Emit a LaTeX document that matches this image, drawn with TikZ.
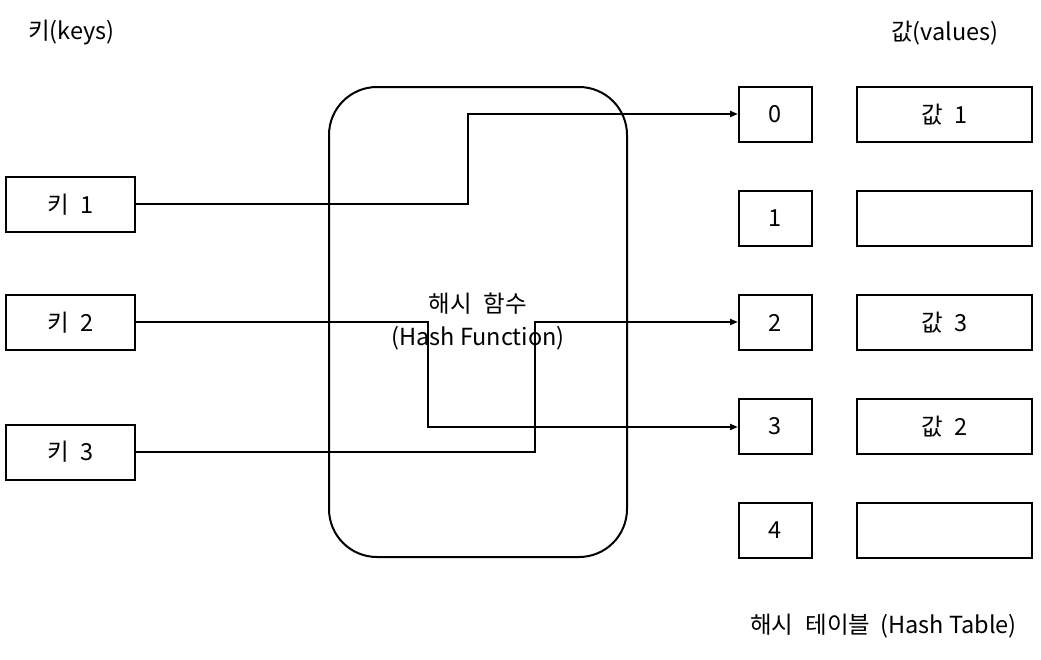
\documentclass[tikz,border=0pt]{standalone}
\usepackage{fontspec}
\setmainfont{Noto Sans CJK KR}
\newcommand{\ksp}{\hspace{12pt}}
\usetikzlibrary{arrows.meta}
\begin{document}
\begin{tikzpicture}[x=1pt,y=-1pt,
  box/.style={draw,line width=2pt,minimum height=55pt,inner sep=0pt,font=\fontsize{23.5}{28}\selectfont},
  keybox/.style={box,minimum width=129pt},
  idxbox/.style={box,minimum width=73pt},
  valbox/.style={box,minimum width=175pt},
  lbl/.style={inner sep=0pt,font=\fontsize{23.5}{28}\selectfont},
  conn/.style={line width=2pt,-{Triangle[length=8pt,width=6pt]}}]
\useasboundingbox (0,0) rectangle (1041,659);
% hash function
\node[draw,line width=2pt,rounded corners=48pt,minimum width=298pt,minimum height=470pt,inner sep=0pt] (hf) at (478,322) {};
\node[lbl,align=center,font=\fontsize{23.5}{33}\selectfont] (hft) at (478,321) {해시\ksp 함수\\(Hash Function)};
% keys
\node[keybox] (k1) at (70.5,204.5) {키\ksp 1};
\node[keybox] (k2) at (70.5,322.5) {키\ksp 2};
\node[keybox] (k3) at (70.5,452) {키\ksp 3};
% indices
\foreach \i/\y in {0/114.5,1/218.5,2/322.5,3/426.5,4/530.5}{
  \node[idxbox] (i\i) at (775.5,\y) {\i};
}
\node[valbox] (v0) at (944.5,114.5) {값\ksp 1};
\node[valbox] (v1) at (944.5,218.5) {};
\node[valbox] (v2) at (944.5,322.5) {값\ksp 3};
\node[valbox] (v3) at (944.5,426.5) {값\ksp 2};
\node[valbox] (v4) at (944.5,530.5) {};
% titles
\node[lbl,anchor=west] (tk) at (28,33) {키(keys)};
\node[lbl,anchor=west] (tv) at (891,33) {값(values)};
\node[lbl,anchor=west] (tt) at (750,626) {해시\ksp 테이블\hspace{10pt}(Hash Table)};
% connectors
\coordinate (c1a) at (468,204);
\coordinate (c1b) at (468,114);
\draw[conn] (k1.east |- c1a) -- (c1a) -- (c1b) -- (i0.west |- c1b);
\coordinate (c2a) at (428,322);
\coordinate (c2b) at (428,427);
\draw[conn] (k2.east |- c2a) -- (c2a) -- (c2b) -- (i3.west |- c2b);
\coordinate (c3a) at (535,452);
\coordinate (c3b) at (535,322);
\draw[conn] (k3.east) -- (c3a) -- (c3b) -- (i2.west |- c3b);
\end{tikzpicture}
\end{document}
